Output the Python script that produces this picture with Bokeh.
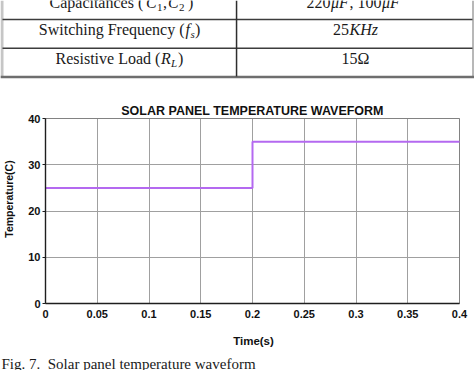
import math
from bokeh.plotting import figure
from bokeh.models import Range1d, Label, FixedTicker, BoxAnnotation
from bokeh.embed import file_html
from bokeh.resources import INLINE

# ---------------- data ----------------
time_s = [0.0, 0.2, 0.4]          # step change instants (s)
temp_c = [25, 35, 35]             # panel temperature (C)
x_ticks = [0, 0.05, 0.1, 0.15, 0.2, 0.25, 0.3, 0.35, 0.4]
x_tick_labels = ["0", "0.05", "0.1", "0.15", "0.2", "0.25", "0.3", "0.35", "0.4"]
y_ticks = [0, 10, 20, 30, 40]
y_tick_labels = ["0", "10", "20", "30", "40"]

chart_title = "SOLAR PANEL TEMPERATURE WAVEFORM"
x_label = "Time(s)"
y_label = "Temperature(C)"
caption = "Fig. 7.\u00a0 Solar panel temperature waveform"

SANS = "Liberation Sans"
SERIF = "Liberation Serif"

# ---------------- geometry ----------------
WIDTH, HEIGHT = 474, 370
X0, X1, Y0, Y1 = 0.0, 0.4, 0.0, 40.0
FL, FR, FT, FB = 45, 459, 118, 303      # chart box edges in page pixels
sx = (X1 - X0) / (FR - FL)               # data units per pixel
sy = (Y1 - Y0) / (FB - FT)

# the plotting frame covers the whole canvas; the chart box sits inside it
p = figure(width=WIDTH, height=HEIGHT,
           x_range=Range1d(X0 - FL * sx, X1 + (WIDTH - FR) * sx),
           y_range=Range1d(Y0 - (HEIGHT - FB) * sy, Y1 + FT * sy),
           output_backend="svg", toolbar_location=None, min_border=0)
p.background_fill_color = "white"
p.border_fill_color = "white"
p.outline_line_color = None


def px_x(px):
    return X0 + (px - FL) * sx


def px_y(py):
    return Y0 + (FB - py) * sy


# grid
for g, t, b, cb in ((p.xgrid, x_ticks, (X0, X1), (Y0, Y1)), (p.ygrid, y_ticks, (Y0, Y1), (X0, X1))):
    g.ticker = FixedTicker(ticks=t)
    g.bounds = b
    g.cross_bounds = cb
    g.grid_line_color = "#a0a0a0"
    g.grid_line_width = 1
    g.grid_line_alpha = 1

# chart box (top / right edges)
p.add_layout(BoxAnnotation(left=X0, right=X1, bottom=Y0, top=Y1, fill_alpha=0,
                           line_color="#404040", line_width=1, level="underlay"))

p.step(x=time_s, y=temp_c, mode="after", line_color="#b469f0", line_width=2)

# axes fixed at the chart box edges
p.xaxis.fixed_location = Y0
p.yaxis.fixed_location = X0
p.xaxis.bounds = (X0, X1)
p.yaxis.bounds = (Y0, Y1)
p.xaxis.ticker = FixedTicker(ticks=x_ticks)
p.yaxis.ticker = FixedTicker(ticks=y_ticks)
p.xaxis.major_label_overrides = dict(zip(x_ticks, x_tick_labels))
p.yaxis.major_label_overrides = dict(zip(y_ticks, y_tick_labels))
for ax in (p.xaxis, p.yaxis):
    ax.axis_line_color = "#1e1e1e"
    ax.axis_line_width = 1.4
    ax.major_tick_line_color = "#1e1e1e"
    ax.minor_tick_line_color = None
    ax.major_tick_in = 0
    ax.major_label_text_font = SANS
    ax.major_label_text_font_style = "bold"
    ax.major_label_text_font_size = "11px"
    ax.major_label_text_color = "#111111"
p.xaxis.major_tick_out = 0
p.xaxis.major_label_standoff = 6
p.yaxis.major_tick_out = 3
p.yaxis.major_label_standoff = 2


def lab(text, x, y, size, font=SANS, style="normal", align="left", angle=0.0, color="#1a1a1a"):
    # y is the vertical centre of the text line, in page pixels
    p.add_layout(Label(x=px_x(x), y=px_y(y), text=text, angle=angle,
                       text_align=align, text_baseline="middle", text_font=font,
                       text_font_style=style, text_font_size=f"{size}px", text_color=color))


def rule(x0, x1, y0, y1, color):
    p.add_layout(BoxAnnotation(left=px_x(x0), right=px_x(x1), top=px_y(y0), bottom=px_y(y1),
                               fill_color=color, fill_alpha=1, line_color=None, level="underlay"))


# title and axis titles
lab(chart_title, 252, 110.8, 12.5, style="bold", align="center", color="#111111")
lab(y_label, 8.5, 198.5, 10.5, style="bold", align="center", angle=math.pi / 2, color="#111111")
lab(x_label, 253, 340.7, 11.5, style="bold", align="center", color="#111111")

# ---------------- table (top, cropped) ----------------
rule(0, 3, 0, 77.5, "#c6c6c6")          # left outer border
rule(471.5, 474, 0, 77.5, "#b8b8b8")    # right outer border
rule(2, 472, 18.3, 19.8, "#3c3c3c")
rule(2, 472, 47, 48.5, "#3c3c3c")
rule(0, 474, 75.3, 77.8, "#6e6e6e")
rule(235.3, 236.8, 0, 76, "#2e2e2e")

# (text, x, centre_y, style, size, align)
segs = [
    ("Capacitances (", 49, 2.3, "normal", 16, "left"),
    ("C", 145.5, 2.3, "italic", 16, "left"),
    ("1", 156.5, 7, "normal", 11, "left"),
    (",", 162.5, 2.3, "normal", 16, "left"),
    ("C", 167.5, 2.3, "italic", 16, "left"),
    ("2", 178.5, 7, "normal", 11, "left"),
    (")", 187.5, 2.3, "normal", 16, "left"),
    ("220", 306, 2.3, "normal", 16, "left"),
    ("\u03bcF", 330.5, 2.3, "italic", 16, "left"),
    (",", 349, 2.3, "normal", 16, "left"),
    ("100", 357, 2.3, "normal", 16, "left"),
    ("\u03bcF", 381.5, 2.3, "italic", 16, "left"),
    ("Switching Frequency (", 38.3, 29.2, "normal", 16, "left"),
    ("f", 185, 29.2, "italic", 16, "left"),
    ("s", 190, 33.8, "italic", 11, "left"),
    (")", 194.5, 29.2, "normal", 16, "left"),
    ("25", 332.5, 29.2, "normal", 16, "left"),
    ("KHz", 349, 29.2, "italic", 16, "left"),
    ("Resistive Load (", 55, 58.2, "normal", 16, "left"),
    ("R", 160.5, 58.2, "italic", 16, "left"),
    ("L", 170.5, 62.8, "italic", 11, "left"),
    (")", 177.5, 58.2, "normal", 16, "left"),
    ("15\u03a9", 355, 58.2, "normal", 16, "center"),
]
for t, x, y, st, sz, al in segs:
    lab(t, x, y, sz, font=SERIF, style=st, align=al)

# ---------------- caption (bottom, cropped) ----------------
lab(caption, 1, 363, 15, font=SERIF)

open("out.html", "w").write(file_html(p, INLINE))
